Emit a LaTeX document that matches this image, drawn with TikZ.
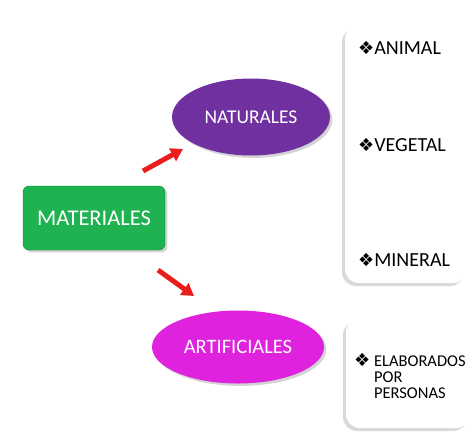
\documentclass[tikz,border=0pt]{standalone}
\usepackage{fontspec}
\setmainfont{Carlito}
\newfontfamily\bulletfont{DejaVu Sans}
\usetikzlibrary{shapes.geometric, shadows, arrows.meta}
\usetikzlibrary{positioning}
\definecolor{verde}{RGB}{30,178,80}
\definecolor{morado}{RGB}{112,48,160}
\definecolor{fucsia}{RGB}{222,34,222}
\definecolor{flecha}{RGB}{235,30,30}

\newcommand{\vineta}{{\bulletfont\fontsize{18}{18}\selectfont ❖}}

\begin{document}
\begin{tikzpicture}[x=1pt, y=-1pt,
	caja/.style={rectangle, rounded corners=6pt, fill=verde, draw=verde!70!black, text=white, minimum width=142pt, minimum height=64pt, font=\fontsize{22.5}{22.5}\selectfont, drop shadow={opacity=0.35}},
	elipse/.style={ellipse, text=white, drop shadow={opacity=0.35}},
	lista/.style={rectangle, rounded corners=14pt, fill=white, drop shadow={shadow xshift=-3pt, shadow yshift=-3pt, opacity=0.3}},
	item/.style={anchor=west, inner sep=0pt, font=\fontsize{20}{20}\selectfont},
	flechita/.style={-{Triangle[length=12pt, width=14pt]}, line width=5pt, flecha}]
	
	\useasboundingbox (0,0) rectangle (474,440);
	
	\node [caja] (m) at (94,218) {MATERIALES};
	\node [elipse, fill=morado, minimum width=158pt, minimum height=77pt, font=\fontsize{19.5}{19.5}\selectfont] (n) at (251,117) {NATURALES};
	\node [elipse, fill=fucsia, minimum width=172pt, minimum height=73pt, font=\fontsize{20.5}{20.5}\selectfont] (a) at (238,347) {ARTIFICIALES};
	
	\node [lista, minimum width=122pt, minimum height=258pt] (l1) at (406,154) {};
	\node [lista, minimum width=124pt, minimum height=110pt] (l2) at (408,373) {};
	
	\node [item] (an) at (358,48) {\vineta ANIMAL};
	\node [item] (ve) at (358,145) {\vineta VEGETAL};
	\node [item] (mi) at (358,260) {\vineta MINERAL};
	\node [anchor=north west, inner sep=0pt, align=left, font=\fontsize{16.5}{16}\selectfont] (el) at (354,353) {\vineta\ ELABORADOS\\\phantom{\vineta\ }POR\\\phantom{\vineta\ }PERSONAS};
	
	\coordinate (f1a) at (143,171);
	\coordinate (f1b) at (183,149);
	\coordinate (f2a) at (158,270);
	\coordinate (f2b) at (194,296);
	\draw [flechita] (f1a) -- (f1b);
	\draw [flechita] (f2a) -- (f2b);
	
\end{tikzpicture}
\end{document}
